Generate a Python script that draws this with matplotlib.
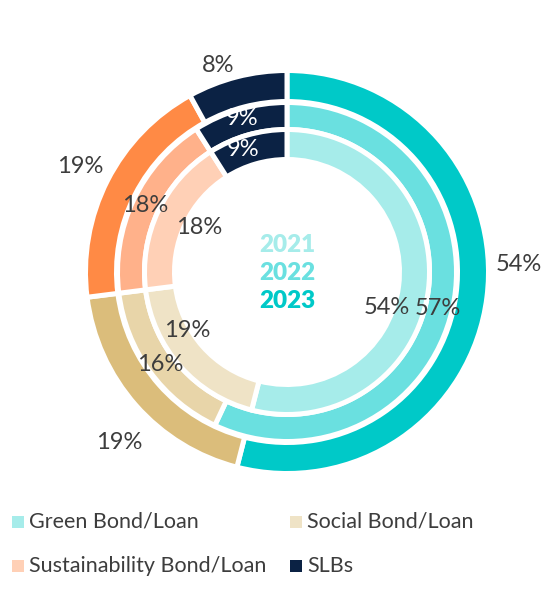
import numpy as np
import matplotlib.pyplot as plt

plt.rcParams['font.family'] = ['Lato', 'DejaVu Sans']

categories = ["Green Bond/Loan", "Social Bond/Loan", "Sustainability Bond/Loan", "SLBs"]
years = ["2021", "2022", "2023"]
shares_2021 = [54, 19, 18, 9]
shares_2022 = [57, 16, 18, 9]
shares_2023 = [54, 19, 19, 8]

colors_2021 = ["#a6ecea", "#efe3c6", "#ffd0b6", "#0b2244"]
colors_2022 = ["#6ae0e0", "#e8d5a9", "#ffb18a", "#0b2244"]
colors_2023 = ["#00c9c8", "#dbbd7b", "#ff8a45", "#0b2244"]

TEXT = "#3d3d3d"
TEXT_WEIGHT = 400

fig = plt.figure(figsize=(5.5, 6), dpi=100)
ax = fig.add_axes([0, 0, 1, 1])

cx, cy = 287, 328
gap = 5  # px, white space between wedges / rings
lw = gap * 72 / 100

# per ring: values, colours, visible outer radius, visible inner radius,
# label radius per wedge, label angle nudge per wedge (deg)
rings = [
    (shares_2023, colors_2023, 199, 173, [232, 239, 232, 218], [9, 4, 0, 4]),
    (shares_2022, colors_2022, 167, 145, [155, 157, 157, 160], [-1, 0, 0, 0]),
    (shares_2021, colors_2021, 140, 115, [106, 116, 98, 130], [-12.5, -11, -1.5, 3.5]),
]

for vals, cols, r_out, r_in, r_lab, nudge in rings:
    R = r_out + gap / 2
    W = (r_out - r_in) + gap
    ax.pie(vals, radius=R, center=(cx, cy), colors=cols, startangle=90,
           counterclock=False,
           wedgeprops=dict(width=W, edgecolor="white", linewidth=lw))
    cum = np.cumsum([0] + vals[:-1])
    for k, (v, c) in enumerate(zip(vals, cum)):
        ang = np.deg2rad(90 - (c + v / 2) / 100 * 360 + nudge[k])
        inside_dark = (cols[k] == "#0b2244") and r_lab[k] < r_out
        ax.text(cx + r_lab[k] * np.cos(ang), cy + r_lab[k] * np.sin(ang), f"{v}%",
                ha="center", va="center", fontsize=17, fontweight=TEXT_WEIGHT,
                color="white" if inside_dark else TEXT)

# centre year labels
for i, (yr, col) in enumerate(zip(years, [colors_2021[0], colors_2022[0], colors_2023[0]])):
    ax.text(cx, cy + 27 - i * 28, yr, ha="center", va="center",
            fontsize=17.5, fontweight="heavy", color=col)

# legend
legend_pos = [(12, 78), (290, 78), (12, 34), (290, 34)]
for (lx, ly), name, col in zip(legend_pos, categories, colors_2021):
    ax.add_patch(plt.Rectangle((lx, ly - 6), 12, 12, color=col, lw=0))
    ax.text(lx + 17, ly, name, ha="left", va="center", fontsize=15.5,
            fontweight=TEXT_WEIGHT, color=TEXT)

ax.set_xlim(0, 550)
ax.set_ylim(0, 600)
ax.set_aspect("equal")
ax.axis("off")

fig.savefig("out.png", dpi=100)
